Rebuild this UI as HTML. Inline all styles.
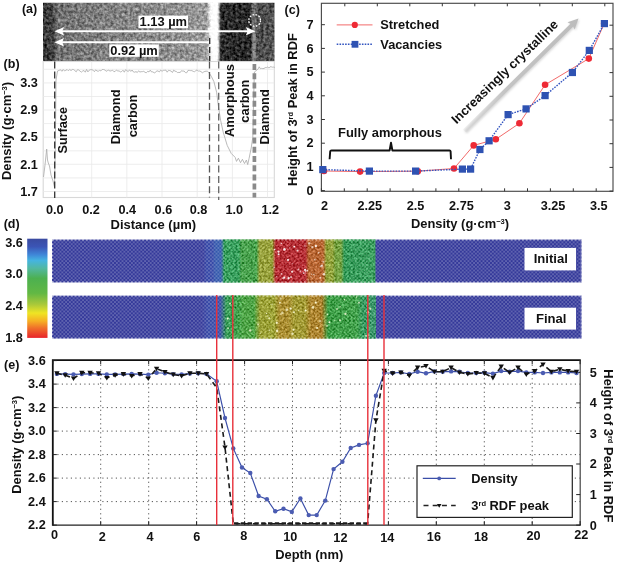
<!DOCTYPE html>
<html><head><meta charset="utf-8"><title>Figure</title>
<style>html,body{margin:0;padding:0;background:#fff}svg{display:block}</style></head>
<body>
<svg width="617" height="564" viewBox="0 0 617 564" font-family="'Liberation Sans', Arial, sans-serif" font-weight="bold">
<defs>
<filter id="noise" x="0" y="0" width="100%" height="100%" color-interpolation-filters="sRGB">
<feTurbulence type="fractalNoise" baseFrequency="0.32" numOctaves="3" seed="3" result="n"/>
<feColorMatrix in="n" type="matrix" values="0 0 0 0 0  0 0 0 0 0  0 0 0 0 0  1.7 0 0 0 -0.6"/>
<feGaussianBlur stdDeviation="0.45"/>
</filter>
<filter id="grain" x="0" y="0" width="100%" height="100%" color-interpolation-filters="sRGB">
<feTurbulence type="fractalNoise" baseFrequency="0.36" numOctaves="2" seed="3"/>
<feColorMatrix type="matrix" values="1 0 0 0 0  1 0 0 0 0  1 0 0 0 0  0 0 0 0 1"/>
<feComponentTransfer result="nz"><feFuncA type="linear" slope="0" intercept="1"/></feComponentTransfer>
<feComposite in="SourceGraphic" in2="nz" operator="arithmetic" k1="0" k2="1" k3="0.66" k4="-0.33"/>
</filter>
<filter id="noiseW" x="0" y="0" width="100%" height="100%" color-interpolation-filters="sRGB">
<feTurbulence type="fractalNoise" baseFrequency="0.3" numOctaves="3" seed="11" result="n"/>
<feColorMatrix in="n" type="matrix" values="0 0 0 0 1  0 0 0 0 1  0 0 0 0 1  0 1.7 0 0 -0.6"/>
<feGaussianBlur stdDeviation="0.45"/>
</filter>
<filter id="blur1" x="-20%" y="-20%" width="140%" height="140%"><feGaussianBlur stdDeviation="0.9"/></filter>
<filter id="blur2"><feGaussianBlur stdDeviation="2"/></filter>
<linearGradient id="ga" gradientUnits="userSpaceOnUse" x1="43" x2="274.5" y1="0" y2="0">
<stop offset="0" stop-color="#3a3a3a"/>
<stop offset="0.042" stop-color="#404040"/>
<stop offset="0.062" stop-color="#727272"/>
<stop offset="0.30" stop-color="#828282"/>
<stop offset="0.60" stop-color="#909090"/>
<stop offset="0.705" stop-color="#9a9a9a"/>
<stop offset="0.728" stop-color="#f4f4f4"/>
<stop offset="0.752" stop-color="#fbfbfb"/>
<stop offset="0.768" stop-color="#2c2c2c"/>
<stop offset="0.898" stop-color="#282828"/>
<stop offset="0.906" stop-color="#7a7a7a"/>
<stop offset="0.916" stop-color="#707070"/>
<stop offset="0.924" stop-color="#4e4e4e"/>
<stop offset="1" stop-color="#525252"/>
</linearGradient>
<linearGradient id="cbar" x1="0" x2="0" y1="0" y2="1">
<stop offset="0" stop-color="#3a4aa0"/>
<stop offset="0.08" stop-color="#3b55b5"/>
<stop offset="0.16" stop-color="#3f86d8"/>
<stop offset="0.22" stop-color="#45b4e0"/>
<stop offset="0.30" stop-color="#52b8a0"/>
<stop offset="0.40" stop-color="#4cb050"/>
<stop offset="0.55" stop-color="#62b844"/>
<stop offset="0.66" stop-color="#a8c83a"/>
<stop offset="0.75" stop-color="#efe524"/>
<stop offset="0.83" stop-color="#f6b024"/>
<stop offset="0.90" stop-color="#f0702a"/>
<stop offset="1" stop-color="#e8232a"/>
</linearGradient>
<linearGradient id="s1" gradientUnits="userSpaceOnUse" x1="52" x2="582" y1="0" y2="0">
<stop offset="0.0000" stop-color="#34399a"/>
<stop offset="0.2857" stop-color="#34399a"/>
<stop offset="0.2917" stop-color="#3547a6"/>
<stop offset="0.3026" stop-color="#3547a6"/>
<stop offset="0.3087" stop-color="#3358ac"/>
<stop offset="0.3191" stop-color="#3358ac"/>
<stop offset="0.3251" stop-color="#27964f"/>
<stop offset="0.3517" stop-color="#27964f"/>
<stop offset="0.3577" stop-color="#3b9a40"/>
<stop offset="0.3857" stop-color="#3b9a40"/>
<stop offset="0.3917" stop-color="#929c32"/>
<stop offset="0.4158" stop-color="#929c32"/>
<stop offset="0.4219" stop-color="#b0242b"/>
<stop offset="0.4781" stop-color="#b0242b"/>
<stop offset="0.4842" stop-color="#b45f2a"/>
<stop offset="0.5117" stop-color="#b45f2a"/>
<stop offset="0.5177" stop-color="#8c9e32"/>
<stop offset="0.5291" stop-color="#8c9e32"/>
<stop offset="0.5351" stop-color="#6c9c36"/>
<stop offset="0.5455" stop-color="#6c9c36"/>
<stop offset="0.5515" stop-color="#28944e"/>
<stop offset="0.6096" stop-color="#28944e"/>
<stop offset="0.6111" stop-color="#34399a"/>
<stop offset="0.9992" stop-color="#34399a"/>
</linearGradient>
<linearGradient id="s2" gradientUnits="userSpaceOnUse" x1="52" x2="582" y1="0" y2="0">
<stop offset="0.0000" stop-color="#34399a"/>
<stop offset="0.2830" stop-color="#34399a"/>
<stop offset="0.2943" stop-color="#3648a6"/>
<stop offset="0.3174" stop-color="#3648a6"/>
<stop offset="0.3287" stop-color="#28944a"/>
<stop offset="0.3340" stop-color="#28944a"/>
<stop offset="0.3453" stop-color="#319a40"/>
<stop offset="0.3491" stop-color="#319a40"/>
<stop offset="0.3604" stop-color="#409c38"/>
<stop offset="0.3811" stop-color="#409c38"/>
<stop offset="0.3925" stop-color="#969c2c"/>
<stop offset="0.4189" stop-color="#969c2c"/>
<stop offset="0.4302" stop-color="#a68828"/>
<stop offset="0.4453" stop-color="#a68828"/>
<stop offset="0.4566" stop-color="#9c942a"/>
<stop offset="0.4774" stop-color="#9c942a"/>
<stop offset="0.4887" stop-color="#a87e26"/>
<stop offset="0.5094" stop-color="#a87e26"/>
<stop offset="0.5208" stop-color="#32983c"/>
<stop offset="0.5755" stop-color="#32983c"/>
<stop offset="0.5868" stop-color="#289254"/>
<stop offset="0.5915" stop-color="#289254"/>
<stop offset="0.6028" stop-color="#288c5c"/>
<stop offset="0.6106" stop-color="#288c5c"/>
<stop offset="0.6121" stop-color="#34399a"/>
<stop offset="0.9992" stop-color="#34399a"/>
</linearGradient>
<pattern id="dots" x="52" y="239.5" width="3.76" height="3.76" patternUnits="userSpaceOnUse">
<circle cx="0.94" cy="0.94" r="0.64" fill="#fff"/><circle cx="2.82" cy="2.82" r="0.64" fill="#fff"/>
</pattern>
<pattern id="dots2" x="52" y="295.5" width="3.76" height="3.76" patternUnits="userSpaceOnUse">
<circle cx="0.94" cy="0.94" r="0.64" fill="#fff"/><circle cx="2.82" cy="2.82" r="0.64" fill="#fff"/>
</pattern>
<filter id="grain2" x="0" y="0" width="100%" height="100%" color-interpolation-filters="sRGB">
<feTurbulence type="fractalNoise" baseFrequency="0.45" numOctaves="2" seed="8"/>
<feColorMatrix type="matrix" values="1 0 0 0 0  1 0 0 0 0  1 0 0 0 0  0 0 0 0 1"/>
<feComponentTransfer result="nz"><feFuncA type="linear" slope="0" intercept="1"/></feComponentTransfer>
<feComposite in="SourceGraphic" in2="nz" operator="arithmetic" k1="0" k2="1" k3="0.6" k4="-0.3"/>
</filter>
<linearGradient id="dm" gradientUnits="userSpaceOnUse" x1="52" x2="582" y1="0" y2="0">
<stop offset="0" stop-color="#fff" stop-opacity="0.6"/>
<stop offset="0.30" stop-color="#fff" stop-opacity="0.6"/>
<stop offset="0.42" stop-color="#fff" stop-opacity="0.3"/>
<stop offset="0.52" stop-color="#fff" stop-opacity="0.3"/>
<stop offset="0.61" stop-color="#fff" stop-opacity="0.6"/>
<stop offset="1" stop-color="#fff" stop-opacity="0.6"/>
</linearGradient>
<mask id="m1"><rect x="52" y="239" width="530" height="100" fill="url(#dm)"/></mask>
<linearGradient id="garrow" gradientUnits="userSpaceOnUse" x1="464" y1="131" x2="580" y2="17">
<stop offset="0" stop-color="#cacaca" stop-opacity="0.2"/>
<stop offset="0.35" stop-color="#c2c2c2" stop-opacity="0.95"/>
<stop offset="1" stop-color="#bcbcbc" stop-opacity="1"/>
</linearGradient>
</defs>
<rect width="617" height="564" fill="#fff"/>
<clipPath id="ca"><rect x="43" y="2.7" width="231.5" height="58.599999999999994"/></clipPath>
<g clip-path="url(#ca)"><rect x="40" y="-0.2999999999999998" width="237.5" height="64.6" fill="url(#ga)" filter="url(#grain)"/></g>
<linearGradient id="wb" gradientUnits="userSpaceOnUse" x1="208" x2="220" y1="0" y2="0"><stop offset="0" stop-color="#fff" stop-opacity="0"/><stop offset="0.32" stop-color="#fff" stop-opacity="0.8"/><stop offset="0.7" stop-color="#fff" stop-opacity="0.85"/><stop offset="1" stop-color="#fff" stop-opacity="0"/></linearGradient>
<rect x="208" y="2.7" width="12" height="58.599999999999994" fill="url(#wb)"/>
<line x1="58.5" y1="31.3" x2="251.3" y2="31.3" stroke="#fff" stroke-width="2"/>
<path d="M54.5 31.3 l9.5 -4.3 l-1.8 4.3 l1.8 4.3z M255.3 31.3 l-9.5 -4.3 l1.8 4.3 l-1.8 4.3z" fill="#fff"/>
<line x1="58.5" y1="42.3" x2="214.6" y2="42.3" stroke="#fff" stroke-width="2"/>
<path d="M54.5 42.3 l9.5 -4.3 l-1.8 4.3 l1.8 4.3z M218.6 42.3 l-9.5 -4.3 l1.8 4.3 l-1.8 4.3z" fill="#fff"/>
<rect x="138.5" y="15.6" width="49.5" height="12.6" fill="#fff"/>
<text x="163.3" y="26.4" font-size="12.9" text-anchor="middle" fill="#111" >1.13 µm</text>
<rect x="109.3" y="44.4" width="49.5" height="12.4" fill="#fff"/>
<text x="134" y="55.3" font-size="12.9" text-anchor="middle" fill="#111" >0.92 µm</text>
<circle cx="254.7" cy="20.4" r="5.9" fill="none" stroke="#fff" stroke-width="1.3" stroke-dasharray="1.7 1.4"/>
<line x1="209.7" y1="38" x2="209.7" y2="61" stroke="#222" stroke-width="1.3" stroke-dasharray="6 3"/>
<line x1="254.5" y1="34" x2="254.5" y2="61" stroke="#999" stroke-width="2.6" stroke-dasharray="6 3" opacity="0.8"/>
<text x="29.6" y="12.7" font-size="12.5" text-anchor="middle" fill="#111" >(a)</text>
<rect x="43.2" y="61.5" width="231.10000000000002" height="136.0" fill="#fff" stroke="#d8d8d8" stroke-width="1.1"/>
<line x1="91.7" y1="61.5" x2="91.7" y2="197.5" stroke="#e9e9e9" stroke-width="0.8"/>
<line x1="126.8" y1="61.5" x2="126.8" y2="197.5" stroke="#e9e9e9" stroke-width="0.8"/>
<line x1="162.0" y1="61.5" x2="162.0" y2="197.5" stroke="#e9e9e9" stroke-width="0.8"/>
<line x1="197.2" y1="61.5" x2="197.2" y2="197.5" stroke="#e9e9e9" stroke-width="0.8"/>
<line x1="232.4" y1="61.5" x2="232.4" y2="197.5" stroke="#e9e9e9" stroke-width="0.8"/>
<line x1="267.5" y1="61.5" x2="267.5" y2="197.5" stroke="#e9e9e9" stroke-width="0.8"/>
<line x1="43.2" y1="69.3" x2="274.3" y2="69.3" stroke="#e9e9e9" stroke-width="0.8"/>
<line x1="43.2" y1="82.9" x2="274.3" y2="82.9" stroke="#e9e9e9" stroke-width="0.8"/>
<line x1="43.2" y1="96.5" x2="274.3" y2="96.5" stroke="#e9e9e9" stroke-width="0.8"/>
<line x1="43.2" y1="110.0" x2="274.3" y2="110.0" stroke="#e9e9e9" stroke-width="0.8"/>
<line x1="43.2" y1="123.6" x2="274.3" y2="123.6" stroke="#e9e9e9" stroke-width="0.8"/>
<line x1="43.2" y1="137.2" x2="274.3" y2="137.2" stroke="#e9e9e9" stroke-width="0.8"/>
<line x1="43.2" y1="150.8" x2="274.3" y2="150.8" stroke="#e9e9e9" stroke-width="0.8"/>
<line x1="43.2" y1="164.3" x2="274.3" y2="164.3" stroke="#e9e9e9" stroke-width="0.8"/>
<line x1="43.2" y1="177.9" x2="274.3" y2="177.9" stroke="#e9e9e9" stroke-width="0.8"/>
<line x1="43.2" y1="191.5" x2="274.3" y2="191.5" stroke="#e9e9e9" stroke-width="0.8"/>
<polyline fill="none" stroke="#adadad" stroke-width="0.85" points="43.5,177.0 45.0,165.0 46.7,149.0 47.5,160.0 48.3,163.0 49.5,166.0 51.0,175.0 53.0,181.0 54.5,187.0 55.3,150.0 56.0,80.0 57.5,71.0 59.3,70.3 60.6,69.8 61.9,71.3 63.2,69.5 64.5,70.9 65.8,70.4 67.1,69.5 68.4,70.8 69.7,69.4 71.0,70.6 72.3,69.5 73.6,69.6 74.9,70.6 76.2,71.8 77.5,69.7 78.8,70.0 80.1,71.2 81.4,72.1 82.7,71.0 84.0,70.5 85.3,72.2 86.6,69.4 87.9,71.9 89.2,70.2 90.5,69.7 91.8,69.7 93.1,70.2 94.4,71.7 95.7,69.8 97.0,71.0 98.3,71.2 99.6,70.4 100.9,70.9 102.2,69.5 103.5,69.5 104.8,69.9 106.1,71.3 107.4,70.6 108.7,70.2 110.0,71.1 111.3,70.7 112.6,70.2 113.9,71.7 115.2,71.4 116.5,70.0 117.8,71.0 119.1,70.9 120.4,71.9 121.7,71.5 123.0,70.2 124.3,72.2 125.6,69.7 126.9,70.6 128.2,71.6 129.5,69.8 130.8,71.4 132.1,70.0 133.4,71.9 134.7,72.2 136.0,71.6 137.3,72.5 138.6,70.8 139.9,72.0 141.2,71.7 142.5,71.6 143.8,71.3 145.1,72.4 146.4,72.7 147.7,71.3 149.0,71.9 150.3,70.1 151.6,72.0 152.9,71.8 154.2,72.9 155.5,72.4 156.8,70.8 158.1,71.1 159.4,71.9 160.7,70.0 162.0,71.3 163.3,70.4 164.6,70.3 165.9,70.1 167.2,72.2 168.5,70.3 169.8,70.6 171.1,71.1 172.4,72.5 173.7,70.1 175.0,71.2 176.3,71.5 177.6,72.6 178.9,72.4 180.2,72.5 181.5,70.7 182.8,71.1 184.1,71.0 185.4,72.6 186.7,72.8 188.0,70.4 189.3,70.4 190.6,70.6 191.9,70.6 193.2,71.4 194.5,71.7 195.8,70.7 197.1,69.9 198.4,71.2 199.7,71.0 201.0,71.6 202.3,72.8 203.6,72.0 204.9,71.4 206.2,71.2 207.5,71.3 208.6,72.3 211.3,76.3 213.9,81.6 216.6,92.2 218.7,108.2 220.6,120.2 223.2,132.1 227.2,145.4 231.2,153.4 235.2,157.4 236.5,161.4 238.4,158.2 240.5,162.7 242.4,159.3 244.5,163.5 246.4,160.0 247.7,164.6 249.0,158.7 251.2,148.0 252.8,137.4 253.6,100.0 254.4,72.0 257.8,69.3 258.5,68.3 259.2,66.8 260.4,68.7 261.6,68.4 262.8,68.6 264.0,68.5 265.2,67.6 266.4,67.6 267.6,66.9 268.8,68.1 270.0,66.8 271.2,66.8 272.4,67.2 273.6,67.1 274.8,67.4"/>
<line x1="54.7" y1="61.5" x2="54.7" y2="198.0" stroke="#333" stroke-width="1.3" stroke-dasharray="7 3"/>
<line x1="209.5" y1="61.5" x2="209.5" y2="197.5" stroke="#555" stroke-width="1.3" stroke-dasharray="7 3.4"/>
<line x1="218.7" y1="61.5" x2="218.7" y2="200.0" stroke="#666" stroke-width="1.3" stroke-dasharray="7 3.4"/>
<line x1="254.4" y1="64" x2="254.4" y2="197.5" stroke="#8a8a8a" stroke-width="3.7" stroke-dasharray="6 3.2"/>
<text x="37.9" y="86.69999999999999" font-size="12.7" text-anchor="end" fill="#111" >3.3</text>
<text x="37.9" y="113.97999999999999" font-size="12.7" text-anchor="end" fill="#111" >2.9</text>
<text x="37.9" y="141.25999999999996" font-size="12.7" text-anchor="end" fill="#111" >2.5</text>
<text x="37.9" y="168.54" font-size="12.7" text-anchor="end" fill="#111" >2.1</text>
<text x="37.9" y="195.81999999999996" font-size="12.7" text-anchor="end" fill="#111" >1.7</text>
<text x="54.8" y="213.5" font-size="12.7" text-anchor="middle" fill="#111" >0.0</text>
<text x="91.0" y="213.5" font-size="12.7" text-anchor="middle" fill="#111" >0.2</text>
<text x="127.2" y="213.5" font-size="12.7" text-anchor="middle" fill="#111" >0.4</text>
<text x="163.4" y="213.5" font-size="12.7" text-anchor="middle" fill="#111" >0.6</text>
<text x="198.5" y="213.5" font-size="12.7" text-anchor="middle" fill="#111" >0.8</text>
<text x="234.3" y="213.5" font-size="12.7" text-anchor="middle" fill="#111" >1.0</text>
<text x="270.2" y="213.5" font-size="12.7" text-anchor="middle" fill="#111" >1.2</text>
<text x="153.3" y="229.3" font-size="13" text-anchor="middle" fill="#111" >Distance (µm)</text>
<text transform="translate(11.4,131) rotate(-90)" font-size="12.9" text-anchor="middle" fill="#111">Density (g·cm<tspan baseline-shift="super" font-size="7.5">−3</tspan>)</text>
<text x="11.6" y="67.7" font-size="12.5" text-anchor="middle" fill="#111" >(b)</text>
<text transform="translate(67.1,130.3) rotate(-90)" font-size="12.7" text-anchor="middle" fill="#111">Surface</text>
<text transform="translate(120.2,116.9) rotate(-90)" font-size="12.8" text-anchor="middle" fill="#111">Diamond</text>
<text transform="translate(137,116) rotate(-90)" font-size="12.8" text-anchor="middle" fill="#111">carbon</text>
<text transform="translate(234.4,100.6) rotate(-90)" font-size="13" text-anchor="middle" fill="#111">Amorphous</text>
<text transform="translate(249.2,101.2) rotate(-90)" font-size="12.9" text-anchor="middle" fill="#111">carbon</text>
<text transform="translate(269.2,116.8) rotate(-90)" font-size="12.9" text-anchor="middle" fill="#111">Diamond</text>
<rect x="321.4" y="3.3" width="291.6" height="188.0" fill="#fff" stroke="#4a4a4a" stroke-width="1.15"/>
<line x1="321.4" y1="191.3" x2="321.4" y2="188.3" stroke="#333" stroke-width="1"/>
<line x1="344.3" y1="191.3" x2="344.3" y2="188.3" stroke="#333" stroke-width="1"/>
<line x1="367.2" y1="191.3" x2="367.2" y2="188.3" stroke="#333" stroke-width="1"/>
<line x1="390.1" y1="191.3" x2="390.1" y2="188.3" stroke="#333" stroke-width="1"/>
<line x1="413.0" y1="191.3" x2="413.0" y2="188.3" stroke="#333" stroke-width="1"/>
<line x1="435.9" y1="191.3" x2="435.9" y2="188.3" stroke="#333" stroke-width="1"/>
<line x1="458.8" y1="191.3" x2="458.8" y2="188.3" stroke="#333" stroke-width="1"/>
<line x1="481.7" y1="191.3" x2="481.7" y2="188.3" stroke="#333" stroke-width="1"/>
<line x1="504.6" y1="191.3" x2="504.6" y2="188.3" stroke="#333" stroke-width="1"/>
<line x1="527.5" y1="191.3" x2="527.5" y2="188.3" stroke="#333" stroke-width="1"/>
<line x1="550.4" y1="191.3" x2="550.4" y2="188.3" stroke="#333" stroke-width="1"/>
<line x1="573.3" y1="191.3" x2="573.3" y2="188.3" stroke="#333" stroke-width="1"/>
<line x1="596.2" y1="191.3" x2="596.2" y2="188.3" stroke="#333" stroke-width="1"/>
<line x1="344.8" y1="3.3" x2="344.8" y2="6.3" stroke="#333" stroke-width="1"/>
<line x1="377.3" y1="3.3" x2="377.3" y2="6.3" stroke="#333" stroke-width="1"/>
<line x1="409.8" y1="3.3" x2="409.8" y2="6.3" stroke="#333" stroke-width="1"/>
<line x1="442.3" y1="3.3" x2="442.3" y2="6.3" stroke="#333" stroke-width="1"/>
<line x1="474.8" y1="3.3" x2="474.8" y2="6.3" stroke="#333" stroke-width="1"/>
<line x1="507.3" y1="3.3" x2="507.3" y2="6.3" stroke="#333" stroke-width="1"/>
<line x1="539.8" y1="3.3" x2="539.8" y2="6.3" stroke="#333" stroke-width="1"/>
<line x1="572.3" y1="3.3" x2="572.3" y2="6.3" stroke="#333" stroke-width="1"/>
<line x1="604.8" y1="3.3" x2="604.8" y2="6.3" stroke="#333" stroke-width="1"/>
<line x1="321.4" y1="190.6" x2="324.9" y2="190.6" stroke="#333" stroke-width="1"/>
<line x1="613" y1="191.1" x2="609.5" y2="191.1" stroke="#333" stroke-width="1"/>
<text x="310" y="194.79999999999998" font-size="12.7" text-anchor="middle" fill="#111" >0</text>
<line x1="321.4" y1="166.9" x2="324.9" y2="166.9" stroke="#333" stroke-width="1"/>
<line x1="613" y1="167.4" x2="609.5" y2="167.4" stroke="#333" stroke-width="1"/>
<text x="310" y="171.1" font-size="12.7" text-anchor="middle" fill="#111" >1</text>
<line x1="321.4" y1="143.2" x2="324.9" y2="143.2" stroke="#333" stroke-width="1"/>
<line x1="613" y1="143.7" x2="609.5" y2="143.7" stroke="#333" stroke-width="1"/>
<text x="310" y="147.39999999999998" font-size="12.7" text-anchor="middle" fill="#111" >2</text>
<line x1="321.4" y1="119.5" x2="324.9" y2="119.5" stroke="#333" stroke-width="1"/>
<line x1="613" y1="120.0" x2="609.5" y2="120.0" stroke="#333" stroke-width="1"/>
<text x="310" y="123.7" font-size="12.7" text-anchor="middle" fill="#111" >3</text>
<line x1="321.4" y1="95.8" x2="324.9" y2="95.8" stroke="#333" stroke-width="1"/>
<line x1="613" y1="96.3" x2="609.5" y2="96.3" stroke="#333" stroke-width="1"/>
<text x="310" y="100.0" font-size="12.7" text-anchor="middle" fill="#111" >4</text>
<line x1="321.4" y1="72.1" x2="324.9" y2="72.1" stroke="#333" stroke-width="1"/>
<line x1="613" y1="72.6" x2="609.5" y2="72.6" stroke="#333" stroke-width="1"/>
<text x="310" y="76.3" font-size="12.7" text-anchor="middle" fill="#111" >5</text>
<line x1="321.4" y1="48.4" x2="324.9" y2="48.4" stroke="#333" stroke-width="1"/>
<line x1="613" y1="48.9" x2="609.5" y2="48.9" stroke="#333" stroke-width="1"/>
<text x="310" y="52.60000000000001" font-size="12.7" text-anchor="middle" fill="#111" >6</text>
<line x1="321.4" y1="24.7" x2="324.9" y2="24.7" stroke="#333" stroke-width="1"/>
<line x1="613" y1="25.2" x2="609.5" y2="25.2" stroke="#333" stroke-width="1"/>
<text x="310" y="28.899999999999988" font-size="12.7" text-anchor="middle" fill="#111" >7</text>
<text x="324.5" y="209.8" font-size="12.7" text-anchor="middle" fill="#111" >2</text>
<text x="369.8" y="209.8" font-size="12.7" text-anchor="middle" fill="#111" >2.25</text>
<text x="415.6" y="209.8" font-size="12.7" text-anchor="middle" fill="#111" >2.5</text>
<text x="461.4" y="209.8" font-size="12.7" text-anchor="middle" fill="#111" >2.75</text>
<text x="507.2" y="209.8" font-size="12.7" text-anchor="middle" fill="#111" >3</text>
<text x="553.0" y="209.8" font-size="12.7" text-anchor="middle" fill="#111" >3.25</text>
<text x="598.8" y="209.8" font-size="12.7" text-anchor="middle" fill="#111" >3.5</text>
<text x="460" y="227.5" font-size="12.9" text-anchor="middle" fill="#111" >Density (g·cm<tspan baseline-shift="super" font-size="7.5">−3</tspan>)</text>
<text transform="translate(297.3,109.6) rotate(-90)" font-size="12.9" text-anchor="middle" fill="#111">Height of 3<tspan baseline-shift="super" font-size="7.5">rd</tspan> Peak in RDF</text>
<text x="292.2" y="13.5" font-size="12.5" text-anchor="middle" fill="#111" >(c)</text>
<path d="M463.2 129.4 L570.4 23.7 L567.5 22.3 L578.5 18.5 L574.6 29.4 L573.2 26.6 L466.0 132.2Z" fill="#999" opacity="0.4" transform="translate(0.9,1.2)" filter="url(#blur1)"/>
<path d="M463.2 129.4 L570.4 23.7 L567.5 22.3 L578.5 18.5 L574.6 29.4 L573.2 26.6 L466.0 132.2Z" fill="url(#garrow)"/>
<text transform="translate(456.4,124.4) rotate(-44)" font-size="12.9" fill="#111">Increasingly crystalline</text>
<path d="M329.6 159.3 L330.2 151.4 Q330.3 150.5 331.5 150.5 L389.6 150.5 L391 142.6 L392.4 150.5 L449.5 150.5 Q450.5 150.5 450.6 151.4 L451 159.3" fill="none" stroke="#111" stroke-width="1.9" stroke-linejoin="round"/>
<text x="390" y="137" font-size="12.9" text-anchor="middle" fill="#111" >Fully amorphous</text>
<polyline fill="none" stroke="#f26a6a" stroke-width="1" points="324,171 360.1,171.6 417.8,171.2 454,168.5 473.7,145.4 495.8,139.3 519.4,123.3 545.1,84.8 588.8,58.6 604.2,23.6"/>
<circle cx="324" cy="171" r="3.3" fill="#ee2a35"/>
<circle cx="360.1" cy="171.6" r="3.3" fill="#ee2a35"/>
<circle cx="417.8" cy="171.2" r="3.3" fill="#ee2a35"/>
<circle cx="454" cy="168.5" r="3.3" fill="#ee2a35"/>
<circle cx="473.7" cy="145.4" r="3.3" fill="#ee2a35"/>
<circle cx="495.8" cy="139.3" r="3.3" fill="#ee2a35"/>
<circle cx="519.4" cy="123.3" r="3.3" fill="#ee2a35"/>
<circle cx="545.1" cy="84.8" r="3.3" fill="#ee2a35"/>
<circle cx="588.8" cy="58.6" r="3.3" fill="#ee2a35"/>
<circle cx="604.2" cy="23.6" r="3.3" fill="#ee2a35"/>
<polyline fill="none" stroke="#3355c0" stroke-width="1.4" stroke-dasharray="1.6 1.2" points="322.8,169.6 369.4,171.1 415.6,171.1 462.4,169.1 470.6,169.1 479.9,149.5 489.1,140.8 508.1,114.6 526.1,108.9 545.1,95.6 572.4,72.5 589.3,50.4 604.4,23.6"/>
<rect x="319.2" y="166.0" width="7.2" height="7.2" fill="#2e52b2"/>
<rect x="365.8" y="167.5" width="7.2" height="7.2" fill="#2e52b2"/>
<rect x="412.0" y="167.5" width="7.2" height="7.2" fill="#2e52b2"/>
<rect x="458.8" y="165.5" width="7.2" height="7.2" fill="#2e52b2"/>
<rect x="467.0" y="165.5" width="7.2" height="7.2" fill="#2e52b2"/>
<rect x="476.3" y="145.9" width="7.2" height="7.2" fill="#2e52b2"/>
<rect x="485.5" y="137.2" width="7.2" height="7.2" fill="#2e52b2"/>
<rect x="504.5" y="111.0" width="7.2" height="7.2" fill="#2e52b2"/>
<rect x="522.5" y="105.3" width="7.2" height="7.2" fill="#2e52b2"/>
<rect x="541.5" y="92.0" width="7.2" height="7.2" fill="#2e52b2"/>
<rect x="568.8" y="68.9" width="7.2" height="7.2" fill="#2e52b2"/>
<rect x="585.7" y="46.8" width="7.2" height="7.2" fill="#2e52b2"/>
<rect x="600.8" y="20.0" width="7.2" height="7.2" fill="#2e52b2"/>
<line x1="336.7" y1="24.9" x2="372.5" y2="24.9" stroke="#f26a6a" stroke-width="1"/><circle cx="354.8" cy="24.9" r="3.1" fill="#ee2a35"/>
<line x1="336.7" y1="44.3" x2="372.5" y2="44.3" stroke="#3355c0" stroke-width="1.4" stroke-dasharray="1.6 1.2"/><rect x="351.6" y="40.9" width="6.8" height="6.8" fill="#2e52b2"/>
<text x="380.3" y="29.3" font-size="12.8" text-anchor="start" fill="#111" >Stretched</text>
<text x="380.3" y="48.8" font-size="12.8" text-anchor="start" fill="#111" >Vacancies</text>
<text x="11.7" y="228.3" font-size="12.5" text-anchor="middle" fill="#111" >(d)</text>
<rect x="27.2" y="238.7" width="20.3" height="99.2" fill="url(#cbar)"/>
<text x="14" y="246.6" font-size="12.7" text-anchor="middle" fill="#111" >3.6</text>
<text x="14" y="277.8" font-size="12.7" text-anchor="middle" fill="#111" >3.0</text>
<text x="14" y="309.8" font-size="12.7" text-anchor="middle" fill="#111" >2.4</text>
<text x="14" y="341.8" font-size="12.7" text-anchor="middle" fill="#111" >1.8</text>
<rect x="52" y="239.5" width="529.6" height="43" fill="url(#s1)"/>
<rect x="52" y="295.6" width="529.6" height="43" fill="url(#s2)"/>
<clipPath id="c1"><rect x="222.7" y="239.5" width="152.8" height="43"/></clipPath><clipPath id="c2"><rect x="223.2" y="295.6" width="152.8" height="43"/></clipPath>
<g clip-path="url(#c1)"><rect x="220" y="237" width="158" height="47" fill="url(#s1)" filter="url(#grain2)"/></g>
<g clip-path="url(#c2)"><rect x="220" y="293" width="158" height="48" fill="url(#s2)" filter="url(#grain2)"/></g>
<g mask="url(#m1)"><rect x="52" y="239.5" width="529.6" height="43" fill="url(#dots)"/>
<rect x="52" y="295.6" width="529.6" height="43" fill="url(#dots2)"/></g>
<circle cx="305.1" cy="269.9" r="1.16" fill="#fff" opacity="0.92"/>
<circle cx="311.0" cy="277.0" r="0.62" fill="#fff" opacity="0.71"/>
<circle cx="321.2" cy="266.3" r="1.23" fill="#fff" opacity="0.55"/>
<circle cx="297.5" cy="250.6" r="0.98" fill="#fff" opacity="0.76"/>
<circle cx="274.7" cy="249.5" r="0.80" fill="#fff" opacity="0.91"/>
<circle cx="312.3" cy="247.2" r="1.16" fill="#fff" opacity="0.56"/>
<circle cx="304.9" cy="245.9" r="0.60" fill="#fff" opacity="0.89"/>
<circle cx="284.5" cy="249.4" r="1.29" fill="#fff" opacity="0.89"/>
<circle cx="288.5" cy="278.5" r="0.98" fill="#fff" opacity="0.81"/>
<circle cx="284.2" cy="277.7" r="1.08" fill="#fff" opacity="0.93"/>
<circle cx="318.7" cy="252.7" r="0.85" fill="#fff" opacity="0.57"/>
<circle cx="281.3" cy="243.5" r="0.81" fill="#fff" opacity="0.77"/>
<circle cx="274.2" cy="267.4" r="0.84" fill="#fff" opacity="0.64"/>
<circle cx="314.9" cy="259.7" r="0.82" fill="#fff" opacity="0.72"/>
<circle cx="309.2" cy="243.2" r="1.28" fill="#fff" opacity="0.51"/>
<circle cx="311.5" cy="274.0" r="0.61" fill="#fff" opacity="0.85"/>
<circle cx="292.3" cy="263.6" r="0.61" fill="#fff" opacity="0.52"/>
<circle cx="283.0" cy="278.3" r="0.74" fill="#fff" opacity="0.84"/>
<circle cx="320.5" cy="277.7" r="0.84" fill="#fff" opacity="0.66"/>
<circle cx="300.2" cy="271.2" r="0.68" fill="#fff" opacity="0.84"/>
<circle cx="313.9" cy="274.5" r="0.63" fill="#fff" opacity="0.93"/>
<circle cx="278.6" cy="254.3" r="1.03" fill="#fff" opacity="0.91"/>
<circle cx="291.0" cy="277.0" r="0.98" fill="#fff" opacity="0.64"/>
<circle cx="289.8" cy="247.9" r="0.65" fill="#fff" opacity="0.57"/>
<circle cx="308.5" cy="279.9" r="0.71" fill="#fff" opacity="0.52"/>
<circle cx="323.3" cy="261.8" r="0.88" fill="#fff" opacity="0.61"/>
<circle cx="303.7" cy="273.2" r="0.92" fill="#fff" opacity="0.69"/>
<circle cx="276.8" cy="276.7" r="0.62" fill="#fff" opacity="0.72"/>
<circle cx="315.9" cy="246.1" r="1.11" fill="#fff" opacity="0.93"/>
<circle cx="305.5" cy="271.7" r="0.67" fill="#fff" opacity="0.70"/>
<circle cx="281.5" cy="273.9" r="0.81" fill="#fff" opacity="0.70"/>
<circle cx="324.0" cy="274.2" r="1.28" fill="#fff" opacity="0.70"/>
<circle cx="298.4" cy="269.5" r="0.94" fill="#fff" opacity="0.63"/>
<circle cx="294.2" cy="246.7" r="0.86" fill="#fff" opacity="0.94"/>
<circle cx="322.0" cy="265.5" r="0.95" fill="#fff" opacity="0.65"/>
<circle cx="278.5" cy="251.6" r="1.15" fill="#fff" opacity="0.89"/>
<circle cx="292.1" cy="271.7" r="1.14" fill="#fff" opacity="0.81"/>
<circle cx="307.2" cy="270.6" r="0.85" fill="#fff" opacity="0.82"/>
<circle cx="288.0" cy="259.9" r="1.14" fill="#fff" opacity="0.81"/>
<circle cx="288.7" cy="277.9" r="1.05" fill="#fff" opacity="0.76"/>
<circle cx="227.7" cy="318.9" r="0.78" fill="#ffffe0" opacity="0.80"/>
<circle cx="293.6" cy="329.7" r="1.05" fill="#ffffe0" opacity="0.86"/>
<circle cx="276.8" cy="322.8" r="1.12" fill="#ffffe0" opacity="0.87"/>
<circle cx="277.1" cy="330.7" r="1.21" fill="#ffffe0" opacity="0.81"/>
<circle cx="368.5" cy="335.3" r="0.96" fill="#ffffe0" opacity="0.74"/>
<circle cx="250.3" cy="330.5" r="1.26" fill="#ffffe0" opacity="0.71"/>
<circle cx="326.9" cy="325.8" r="1.11" fill="#ffffe0" opacity="0.58"/>
<circle cx="339.9" cy="320.2" r="1.07" fill="#ffffe0" opacity="0.69"/>
<circle cx="317.1" cy="328.0" r="1.05" fill="#ffffe0" opacity="0.82"/>
<circle cx="230.0" cy="303.4" r="0.91" fill="#ffffe0" opacity="0.79"/>
<circle cx="258.0" cy="324.4" r="1.04" fill="#ffffe0" opacity="0.52"/>
<circle cx="294.9" cy="306.0" r="0.64" fill="#ffffe0" opacity="0.56"/>
<circle cx="272.3" cy="304.3" r="0.74" fill="#ffffe0" opacity="0.52"/>
<circle cx="293.9" cy="312.2" r="1.03" fill="#ffffe0" opacity="0.77"/>
<circle cx="260.7" cy="333.1" r="0.60" fill="#ffffe0" opacity="0.68"/>
<circle cx="266.7" cy="313.4" r="0.68" fill="#ffffe0" opacity="0.87"/>
<circle cx="280.6" cy="298.4" r="1.03" fill="#ffffe0" opacity="0.54"/>
<circle cx="305.6" cy="310.6" r="1.01" fill="#ffffe0" opacity="0.93"/>
<circle cx="345.5" cy="313.8" r="1.17" fill="#ffffe0" opacity="0.79"/>
<circle cx="279.9" cy="302.7" r="1.02" fill="#ffffe0" opacity="0.75"/>
<circle cx="365.8" cy="335.7" r="1.03" fill="#ffffe0" opacity="0.66"/>
<circle cx="356.4" cy="297.0" r="0.68" fill="#ffffe0" opacity="0.75"/>
<circle cx="315.8" cy="302.6" r="1.04" fill="#ffffe0" opacity="0.90"/>
<circle cx="280.9" cy="314.3" r="0.76" fill="#ffffe0" opacity="0.63"/>
<circle cx="368.0" cy="312.2" r="1.27" fill="#ffffe0" opacity="0.91"/>
<circle cx="313.0" cy="307.4" r="1.29" fill="#ffffe0" opacity="0.72"/>
<circle cx="286.7" cy="309.8" r="1.29" fill="#ffffe0" opacity="0.72"/>
<circle cx="267.8" cy="316.1" r="0.69" fill="#ffffe0" opacity="0.78"/>
<circle cx="290.7" cy="308.7" r="1.15" fill="#ffffe0" opacity="0.87"/>
<circle cx="227.9" cy="318.3" r="0.79" fill="#ffffe0" opacity="0.92"/>
<circle cx="340.2" cy="306.8" r="0.79" fill="#ffffe0" opacity="0.57"/>
<circle cx="370.4" cy="308.7" r="1.03" fill="#ffffe0" opacity="0.71"/>
<circle cx="320.2" cy="321.2" r="1.12" fill="#ffffe0" opacity="0.55"/>
<circle cx="337.0" cy="309.0" r="0.97" fill="#ffffe0" opacity="0.65"/>
<circle cx="269.3" cy="318.2" r="0.93" fill="#ffffe0" opacity="0.66"/>
<circle cx="334.8" cy="320.6" r="0.63" fill="#ffffe0" opacity="0.61"/>
<circle cx="292.5" cy="333.7" r="1.22" fill="#ffffe0" opacity="0.75"/>
<circle cx="228.1" cy="328.1" r="0.90" fill="#ffffe0" opacity="0.76"/>
<circle cx="329.4" cy="322.3" r="0.94" fill="#ffffe0" opacity="0.91"/>
<circle cx="282.3" cy="312.7" r="1.20" fill="#ffffe0" opacity="0.59"/>
<circle cx="269.3" cy="330.2" r="0.65" fill="#ffffe0" opacity="0.88"/>
<circle cx="327.4" cy="314.3" r="0.80" fill="#ffffe0" opacity="0.85"/>
<circle cx="359.0" cy="302.7" r="0.93" fill="#ffffe0" opacity="0.75"/>
<circle cx="298.7" cy="310.2" r="0.71" fill="#ffffe0" opacity="0.76"/>
<circle cx="344.5" cy="299.7" r="0.76" fill="#ffffe0" opacity="0.87"/>
<pattern id="edgeh" x="52" y="0" width="3.76" height="2" patternUnits="userSpaceOnUse"><circle cx="0.94" cy="1" r="0.8" fill="#fff"/></pattern>
<pattern id="edgev" x="0" y="239.5" width="2" height="3.76" patternUnits="userSpaceOnUse"><circle cx="1" cy="0.94" r="0.8" fill="#fff"/></pattern>
<rect x="52" y="238.5" width="529.6" height="2" fill="url(#edgeh)" opacity="0.9"/>
<rect x="52" y="281.5" width="529.6" height="2" fill="url(#edgeh)" opacity="0.9"/>
<rect x="51" y="239.5" width="2" height="43.0" fill="url(#edgev)" opacity="0.9"/>
<rect x="580.6" y="239.5" width="2" height="43.0" fill="url(#edgev)" opacity="0.9"/>
<rect x="52" y="294.6" width="529.6" height="2" fill="url(#edgeh)" opacity="0.9"/>
<rect x="52" y="337.6" width="529.6" height="2" fill="url(#edgeh)" opacity="0.9"/>
<rect x="51" y="295.6" width="2" height="43.0" fill="url(#edgev)" opacity="0.9"/>
<rect x="580.6" y="295.6" width="2" height="43.0" fill="url(#edgev)" opacity="0.9"/>
<rect x="524.5" y="247.9" width="51.5" height="22.5" fill="#fff"/>
<text x="550.8" y="263.3" font-size="13.1" text-anchor="middle" fill="#111" >Initial</text>
<rect x="524.5" y="307.7" width="51.5" height="21.9" fill="#fff"/>
<text x="551.2" y="322.8" font-size="13.1" text-anchor="middle" fill="#111" >Final</text>
<rect x="52.8" y="360.2" width="527.4000000000001" height="164.90000000000003" fill="#fff"/>
<path d="M52.8 525.8000000000001 V360.2 H580.8000000000001" fill="none" stroke="#111" stroke-width="1.8"/><path d="M580.2 360.2 V525.1 " fill="none" stroke="#444" stroke-width="1.2"/><path d="M52.8 525.1 H580.8000000000001" fill="none" stroke="#222" stroke-width="1.4"/>
<line x1="100.7" y1="360.2" x2="100.7" y2="525.1" stroke="#555" stroke-width="1" stroke-dasharray="1.2 3.3"/>
<line x1="148.7" y1="360.2" x2="148.7" y2="525.1" stroke="#555" stroke-width="1" stroke-dasharray="1.2 3.3"/>
<line x1="196.6" y1="360.2" x2="196.6" y2="525.1" stroke="#555" stroke-width="1" stroke-dasharray="1.2 3.3"/>
<line x1="244.6" y1="360.2" x2="244.6" y2="525.1" stroke="#555" stroke-width="1" stroke-dasharray="1.2 3.3"/>
<line x1="292.5" y1="360.2" x2="292.5" y2="525.1" stroke="#555" stroke-width="1" stroke-dasharray="1.2 3.3"/>
<line x1="340.4" y1="360.2" x2="340.4" y2="525.1" stroke="#555" stroke-width="1" stroke-dasharray="1.2 3.3"/>
<line x1="388.4" y1="360.2" x2="388.4" y2="525.1" stroke="#555" stroke-width="1" stroke-dasharray="1.2 3.3"/>
<line x1="436.3" y1="360.2" x2="436.3" y2="525.1" stroke="#555" stroke-width="1" stroke-dasharray="1.2 3.3"/>
<line x1="484.3" y1="360.2" x2="484.3" y2="525.1" stroke="#555" stroke-width="1" stroke-dasharray="1.2 3.3"/>
<line x1="532.2" y1="360.2" x2="532.2" y2="525.1" stroke="#555" stroke-width="1" stroke-dasharray="1.2 3.3"/>
<line x1="52.8" y1="384.1" x2="580.2" y2="384.1" stroke="#555" stroke-width="1" stroke-dasharray="1.2 3.3"/>
<line x1="52.8" y1="407.6" x2="580.2" y2="407.6" stroke="#555" stroke-width="1" stroke-dasharray="1.2 3.3"/>
<line x1="52.8" y1="431.1" x2="580.2" y2="431.1" stroke="#555" stroke-width="1" stroke-dasharray="1.2 3.3"/>
<line x1="52.8" y1="454.6" x2="580.2" y2="454.6" stroke="#555" stroke-width="1" stroke-dasharray="1.2 3.3"/>
<line x1="52.8" y1="478.1" x2="580.2" y2="478.1" stroke="#555" stroke-width="1" stroke-dasharray="1.2 3.3"/>
<line x1="52.8" y1="501.6" x2="580.2" y2="501.6" stroke="#555" stroke-width="1" stroke-dasharray="1.2 3.3"/>
<line x1="52.8" y1="525.1" x2="52.8" y2="521.1" stroke="#222" stroke-width="1"/>
<line x1="52.8" y1="360.2" x2="52.8" y2="364.2" stroke="#222" stroke-width="1"/>
<text x="54.5" y="539" font-size="12.7" text-anchor="middle" fill="#111" >0</text>
<line x1="100.7" y1="525.1" x2="100.7" y2="521.1" stroke="#222" stroke-width="1"/>
<line x1="100.7" y1="360.2" x2="100.7" y2="364.2" stroke="#222" stroke-width="1"/>
<text x="102.2" y="541" font-size="12.7" text-anchor="middle" fill="#111" >2</text>
<line x1="148.7" y1="525.1" x2="148.7" y2="521.1" stroke="#222" stroke-width="1"/>
<line x1="148.7" y1="360.2" x2="148.7" y2="364.2" stroke="#222" stroke-width="1"/>
<text x="150" y="541" font-size="12.7" text-anchor="middle" fill="#111" >4</text>
<line x1="196.6" y1="525.1" x2="196.6" y2="521.1" stroke="#222" stroke-width="1"/>
<line x1="196.6" y1="360.2" x2="196.6" y2="364.2" stroke="#222" stroke-width="1"/>
<text x="196.8" y="541" font-size="12.7" text-anchor="middle" fill="#111" >6</text>
<line x1="244.6" y1="525.1" x2="244.6" y2="521.1" stroke="#222" stroke-width="1"/>
<line x1="244.6" y1="360.2" x2="244.6" y2="364.2" stroke="#222" stroke-width="1"/>
<text x="243.8" y="540.3" font-size="12.7" text-anchor="middle" fill="#111" >8</text>
<line x1="292.5" y1="525.1" x2="292.5" y2="521.1" stroke="#222" stroke-width="1"/>
<line x1="292.5" y1="360.2" x2="292.5" y2="364.2" stroke="#222" stroke-width="1"/>
<text x="290.2" y="540.8" font-size="12.7" text-anchor="middle" fill="#111" >10</text>
<line x1="340.4" y1="525.1" x2="340.4" y2="521.1" stroke="#222" stroke-width="1"/>
<line x1="340.4" y1="360.2" x2="340.4" y2="364.2" stroke="#222" stroke-width="1"/>
<text x="340.4" y="542.3" font-size="12.7" text-anchor="middle" fill="#111" >12</text>
<line x1="388.4" y1="525.1" x2="388.4" y2="521.1" stroke="#222" stroke-width="1"/>
<line x1="388.4" y1="360.2" x2="388.4" y2="364.2" stroke="#222" stroke-width="1"/>
<text x="387.2" y="541.5" font-size="12.7" text-anchor="middle" fill="#111" >14</text>
<line x1="436.3" y1="525.1" x2="436.3" y2="521.1" stroke="#222" stroke-width="1"/>
<line x1="436.3" y1="360.2" x2="436.3" y2="364.2" stroke="#222" stroke-width="1"/>
<text x="433.9" y="541" font-size="12.7" text-anchor="middle" fill="#111" >16</text>
<line x1="484.3" y1="525.1" x2="484.3" y2="521.1" stroke="#222" stroke-width="1"/>
<line x1="484.3" y1="360.2" x2="484.3" y2="364.2" stroke="#222" stroke-width="1"/>
<text x="481.1" y="541" font-size="12.7" text-anchor="middle" fill="#111" >18</text>
<line x1="532.2" y1="525.1" x2="532.2" y2="521.1" stroke="#222" stroke-width="1"/>
<line x1="532.2" y1="360.2" x2="532.2" y2="364.2" stroke="#222" stroke-width="1"/>
<text x="533.5" y="539.6" font-size="12.7" text-anchor="middle" fill="#111" >20</text>
<line x1="580.1" y1="525.1" x2="580.1" y2="521.1" stroke="#222" stroke-width="1"/>
<line x1="580.1" y1="360.2" x2="580.1" y2="364.2" stroke="#222" stroke-width="1"/>
<text x="581.2" y="538.6" font-size="12.7" text-anchor="middle" fill="#111" >22</text>
<text x="45.7" y="364.90000000000003" font-size="12.7" text-anchor="end" fill="#111" >3.6</text>
<line x1="52.8" y1="360.6" x2="56.8" y2="360.6" stroke="#222" stroke-width="1"/>
<text x="45.7" y="388.40000000000003" font-size="12.7" text-anchor="end" fill="#111" >3.4</text>
<line x1="52.8" y1="384.1" x2="56.8" y2="384.1" stroke="#222" stroke-width="1"/>
<text x="45.7" y="411.90000000000003" font-size="12.7" text-anchor="end" fill="#111" >3.2</text>
<line x1="52.8" y1="407.6" x2="56.8" y2="407.6" stroke="#222" stroke-width="1"/>
<text x="45.7" y="435.40000000000003" font-size="12.7" text-anchor="end" fill="#111" >3.0</text>
<line x1="52.8" y1="431.1" x2="56.8" y2="431.1" stroke="#222" stroke-width="1"/>
<text x="45.7" y="458.90000000000003" font-size="12.7" text-anchor="end" fill="#111" >2.8</text>
<line x1="52.8" y1="454.6" x2="56.8" y2="454.6" stroke="#222" stroke-width="1"/>
<text x="45.7" y="482.40000000000003" font-size="12.7" text-anchor="end" fill="#111" >2.6</text>
<line x1="52.8" y1="478.1" x2="56.8" y2="478.1" stroke="#222" stroke-width="1"/>
<text x="45.7" y="505.90000000000003" font-size="12.7" text-anchor="end" fill="#111" >2.4</text>
<line x1="52.8" y1="501.6" x2="56.8" y2="501.6" stroke="#222" stroke-width="1"/>
<text x="45.7" y="529.4" font-size="12.7" text-anchor="end" fill="#111" >2.2</text>
<line x1="52.8" y1="525.1" x2="56.8" y2="525.1" stroke="#222" stroke-width="1"/>
<text x="593.3" y="529.5" font-size="12.7" text-anchor="middle" fill="#111" >0</text>
<line x1="580.2" y1="525.1" x2="576.2" y2="525.1" stroke="#222" stroke-width="1"/>
<text x="593.3" y="498.96" font-size="12.7" text-anchor="middle" fill="#111" >1</text>
<line x1="580.2" y1="494.6" x2="576.2" y2="494.6" stroke="#222" stroke-width="1"/>
<text x="593.3" y="468.42" font-size="12.7" text-anchor="middle" fill="#111" >2</text>
<line x1="580.2" y1="464.0" x2="576.2" y2="464.0" stroke="#222" stroke-width="1"/>
<text x="593.3" y="437.88" font-size="12.7" text-anchor="middle" fill="#111" >3</text>
<line x1="580.2" y1="433.5" x2="576.2" y2="433.5" stroke="#222" stroke-width="1"/>
<text x="593.3" y="407.34000000000003" font-size="12.7" text-anchor="middle" fill="#111" >4</text>
<line x1="580.2" y1="402.9" x2="576.2" y2="402.9" stroke="#222" stroke-width="1"/>
<text x="593.3" y="376.8" font-size="12.7" text-anchor="middle" fill="#111" >5</text>
<line x1="580.2" y1="372.4" x2="576.2" y2="372.4" stroke="#222" stroke-width="1"/>
<text x="309.2" y="559" font-size="12.9" text-anchor="middle" fill="#111" >Depth (nm)</text>
<text transform="translate(20.6,444.8) rotate(-90)" font-size="12.9" text-anchor="middle" fill="#111">Density (g·cm<tspan baseline-shift="super" font-size="7.5">−3</tspan>)</text>
<text transform="translate(604.3,445.8) rotate(90)" font-size="12.9" text-anchor="middle" fill="#111">Height of 3<tspan baseline-shift="super" font-size="7.5">rd</tspan> Peak in RDF</text>
<text x="11.7" y="368.8" font-size="12.5" text-anchor="middle" fill="#111" >(e)</text>
<polyline fill="none" stroke="#3a4ea8" stroke-width="1.15" points="56.9,373.9 65.2,374.1 73.5,374.4 81.8,374.1 90.1,373.9 98.5,373.9 106.8,374.4 115.1,374.4 123.4,374.1 131.7,373.9 140.0,374.1 148.3,374.6 156.6,372.8 164.9,373.3 173.2,374.1 181.6,374.4 189.9,373.6 198.2,373.3 206.5,373.9 216.7,381.3 225.0,418.0 233.3,448.4 242.0,467.5 250.3,473.0 258.6,496.0 266.9,499.2 275.2,511.3 283.5,508.7 291.8,511.9 300.4,498.5 308.7,515.1 316.7,515.1 325.3,500.6 333.6,469.1 342.4,461.8 350.7,448.0 359.0,444.9 367.6,443.3 375.9,395.7 384.2,373.0 392.6,373.0 400.9,372.4 409.3,374.0 417.6,371.7 426.0,373.3 434.4,371.4 442.7,371.7 451.1,371.4 459.4,371.7 467.8,373.0 476.2,373.0 484.5,372.7 492.9,373.6 501.2,371.1 509.6,371.7 518.0,371.1 526.3,372.4 534.7,372.4 543.0,373.0 551.4,372.4 559.8,372.4 568.1,372.4 576.5,373.0"/>
<circle cx="56.9" cy="373.9" r="2.2" fill="#4b5cb2"/>
<circle cx="65.2" cy="374.1" r="2.2" fill="#4b5cb2"/>
<circle cx="73.5" cy="374.4" r="2.2" fill="#4b5cb2"/>
<circle cx="81.8" cy="374.1" r="2.2" fill="#4b5cb2"/>
<circle cx="90.1" cy="373.9" r="2.2" fill="#4b5cb2"/>
<circle cx="98.5" cy="373.9" r="2.2" fill="#4b5cb2"/>
<circle cx="106.8" cy="374.4" r="2.2" fill="#4b5cb2"/>
<circle cx="115.1" cy="374.4" r="2.2" fill="#4b5cb2"/>
<circle cx="123.4" cy="374.1" r="2.2" fill="#4b5cb2"/>
<circle cx="131.7" cy="373.9" r="2.2" fill="#4b5cb2"/>
<circle cx="140.0" cy="374.1" r="2.2" fill="#4b5cb2"/>
<circle cx="148.3" cy="374.6" r="2.2" fill="#4b5cb2"/>
<circle cx="156.6" cy="372.8" r="2.2" fill="#4b5cb2"/>
<circle cx="164.9" cy="373.3" r="2.2" fill="#4b5cb2"/>
<circle cx="173.2" cy="374.1" r="2.2" fill="#4b5cb2"/>
<circle cx="181.6" cy="374.4" r="2.2" fill="#4b5cb2"/>
<circle cx="189.9" cy="373.6" r="2.2" fill="#4b5cb2"/>
<circle cx="198.2" cy="373.3" r="2.2" fill="#4b5cb2"/>
<circle cx="206.5" cy="373.9" r="2.2" fill="#4b5cb2"/>
<circle cx="216.7" cy="381.3" r="2.2" fill="#4b5cb2"/>
<circle cx="225.0" cy="418.0" r="2.2" fill="#4b5cb2"/>
<circle cx="233.3" cy="448.4" r="2.2" fill="#4b5cb2"/>
<circle cx="242.0" cy="467.5" r="2.2" fill="#4b5cb2"/>
<circle cx="250.3" cy="473.0" r="2.2" fill="#4b5cb2"/>
<circle cx="258.6" cy="496.0" r="2.2" fill="#4b5cb2"/>
<circle cx="266.9" cy="499.2" r="2.2" fill="#4b5cb2"/>
<circle cx="275.2" cy="511.3" r="2.2" fill="#4b5cb2"/>
<circle cx="283.5" cy="508.7" r="2.2" fill="#4b5cb2"/>
<circle cx="291.8" cy="511.9" r="2.2" fill="#4b5cb2"/>
<circle cx="300.4" cy="498.5" r="2.2" fill="#4b5cb2"/>
<circle cx="308.7" cy="515.1" r="2.2" fill="#4b5cb2"/>
<circle cx="316.7" cy="515.1" r="2.2" fill="#4b5cb2"/>
<circle cx="325.3" cy="500.6" r="2.2" fill="#4b5cb2"/>
<circle cx="333.6" cy="469.1" r="2.2" fill="#4b5cb2"/>
<circle cx="342.4" cy="461.8" r="2.2" fill="#4b5cb2"/>
<circle cx="350.7" cy="448.0" r="2.2" fill="#4b5cb2"/>
<circle cx="359.0" cy="444.9" r="2.2" fill="#4b5cb2"/>
<circle cx="367.6" cy="443.3" r="2.2" fill="#4b5cb2"/>
<circle cx="375.9" cy="395.7" r="2.2" fill="#4b5cb2"/>
<circle cx="384.2" cy="373.0" r="2.2" fill="#4b5cb2"/>
<circle cx="392.6" cy="373.0" r="2.2" fill="#4b5cb2"/>
<circle cx="400.9" cy="372.4" r="2.2" fill="#4b5cb2"/>
<circle cx="409.3" cy="374.0" r="2.2" fill="#4b5cb2"/>
<circle cx="417.6" cy="371.7" r="2.2" fill="#4b5cb2"/>
<circle cx="426.0" cy="373.3" r="2.2" fill="#4b5cb2"/>
<circle cx="434.4" cy="371.4" r="2.2" fill="#4b5cb2"/>
<circle cx="442.7" cy="371.7" r="2.2" fill="#4b5cb2"/>
<circle cx="451.1" cy="371.4" r="2.2" fill="#4b5cb2"/>
<circle cx="459.4" cy="371.7" r="2.2" fill="#4b5cb2"/>
<circle cx="467.8" cy="373.0" r="2.2" fill="#4b5cb2"/>
<circle cx="476.2" cy="373.0" r="2.2" fill="#4b5cb2"/>
<circle cx="484.5" cy="372.7" r="2.2" fill="#4b5cb2"/>
<circle cx="492.9" cy="373.6" r="2.2" fill="#4b5cb2"/>
<circle cx="501.2" cy="371.1" r="2.2" fill="#4b5cb2"/>
<circle cx="509.6" cy="371.7" r="2.2" fill="#4b5cb2"/>
<circle cx="518.0" cy="371.1" r="2.2" fill="#4b5cb2"/>
<circle cx="526.3" cy="372.4" r="2.2" fill="#4b5cb2"/>
<circle cx="534.7" cy="372.4" r="2.2" fill="#4b5cb2"/>
<circle cx="543.0" cy="373.0" r="2.2" fill="#4b5cb2"/>
<circle cx="551.4" cy="372.4" r="2.2" fill="#4b5cb2"/>
<circle cx="559.8" cy="372.4" r="2.2" fill="#4b5cb2"/>
<circle cx="568.1" cy="372.4" r="2.2" fill="#4b5cb2"/>
<circle cx="576.5" cy="373.0" r="2.2" fill="#4b5cb2"/>
<polyline fill="none" stroke="#1a1a1a" stroke-width="1.6" stroke-dasharray="5 3.6" points="56.9,373.3 65.2,375.2 73.5,378.5 81.8,372.8 90.1,372.8 98.5,373.3 106.8,378.0 115.1,375.2 123.4,374.1 131.7,375.9 140.0,373.9 148.3,378.5 156.6,368.7 164.9,372.0 173.2,374.6 181.6,375.9 189.9,373.3 198.2,373.3 206.5,373.9 216.7,387.7 225.0,447.4 233.3,523.7 367.6,523.7 375.9,420.3 384.2,370.8 392.6,373.3 400.9,372.4 409.3,375.6 417.6,367.6 426.0,366.0 434.4,371.7 442.7,371.7 451.1,367.6 459.4,372.4 467.8,374.0 476.2,373.0 484.5,373.3 492.9,377.8 501.2,366.6 509.6,372.4 518.0,367.6 526.3,374.3 534.7,371.1 543.0,364.4 551.4,371.7 559.8,369.2 568.1,371.1 576.5,371.7"/>
<line x1="234" y1="523.3" x2="367.6" y2="523.3" stroke="#1a1a1a" stroke-width="2.2" stroke-dasharray="4.4 2.4"/>
<path d="M54.2 371.3 h5.4 l-2.7 4.6z" fill="#111"/>
<path d="M62.5 373.2 h5.4 l-2.7 4.6z" fill="#111"/>
<path d="M70.8 376.5 h5.4 l-2.7 4.6z" fill="#111"/>
<path d="M79.1 370.8 h5.4 l-2.7 4.6z" fill="#111"/>
<path d="M87.4 370.8 h5.4 l-2.7 4.6z" fill="#111"/>
<path d="M95.8 371.3 h5.4 l-2.7 4.6z" fill="#111"/>
<path d="M104.1 376.0 h5.4 l-2.7 4.6z" fill="#111"/>
<path d="M112.4 373.2 h5.4 l-2.7 4.6z" fill="#111"/>
<path d="M120.7 372.1 h5.4 l-2.7 4.6z" fill="#111"/>
<path d="M129.0 373.9 h5.4 l-2.7 4.6z" fill="#111"/>
<path d="M137.3 371.9 h5.4 l-2.7 4.6z" fill="#111"/>
<path d="M145.6 376.5 h5.4 l-2.7 4.6z" fill="#111"/>
<path d="M153.9 366.7 h5.4 l-2.7 4.6z" fill="#111"/>
<path d="M162.2 370.0 h5.4 l-2.7 4.6z" fill="#111"/>
<path d="M170.5 372.6 h5.4 l-2.7 4.6z" fill="#111"/>
<path d="M178.9 373.9 h5.4 l-2.7 4.6z" fill="#111"/>
<path d="M187.2 371.3 h5.4 l-2.7 4.6z" fill="#111"/>
<path d="M195.5 371.3 h5.4 l-2.7 4.6z" fill="#111"/>
<path d="M203.8 371.9 h5.4 l-2.7 4.6z" fill="#111"/>
<path d="M222.3 445.4 h5.4 l-2.7 4.6z" fill="#111"/>
<path d="M373.2 418.3 h5.4 l-2.7 4.6z" fill="#111"/>
<path d="M381.5 368.8 h5.4 l-2.7 4.6z" fill="#111"/>
<path d="M389.9 371.3 h5.4 l-2.7 4.6z" fill="#111"/>
<path d="M398.2 370.4 h5.4 l-2.7 4.6z" fill="#111"/>
<path d="M406.6 373.6 h5.4 l-2.7 4.6z" fill="#111"/>
<path d="M414.9 365.6 h5.4 l-2.7 4.6z" fill="#111"/>
<path d="M423.3 364.0 h5.4 l-2.7 4.6z" fill="#111"/>
<path d="M431.7 369.7 h5.4 l-2.7 4.6z" fill="#111"/>
<path d="M440.0 369.7 h5.4 l-2.7 4.6z" fill="#111"/>
<path d="M448.4 365.6 h5.4 l-2.7 4.6z" fill="#111"/>
<path d="M456.7 370.4 h5.4 l-2.7 4.6z" fill="#111"/>
<path d="M465.1 372.0 h5.4 l-2.7 4.6z" fill="#111"/>
<path d="M473.5 371.0 h5.4 l-2.7 4.6z" fill="#111"/>
<path d="M481.8 371.3 h5.4 l-2.7 4.6z" fill="#111"/>
<path d="M490.2 375.8 h5.4 l-2.7 4.6z" fill="#111"/>
<path d="M498.5 364.6 h5.4 l-2.7 4.6z" fill="#111"/>
<path d="M506.9 370.4 h5.4 l-2.7 4.6z" fill="#111"/>
<path d="M515.3 365.6 h5.4 l-2.7 4.6z" fill="#111"/>
<path d="M523.6 372.3 h5.4 l-2.7 4.6z" fill="#111"/>
<path d="M532.0 369.1 h5.4 l-2.7 4.6z" fill="#111"/>
<path d="M540.3 362.4 h5.4 l-2.7 4.6z" fill="#111"/>
<path d="M548.7 369.7 h5.4 l-2.7 4.6z" fill="#111"/>
<path d="M557.1 367.2 h5.4 l-2.7 4.6z" fill="#111"/>
<path d="M565.4 369.1 h5.4 l-2.7 4.6z" fill="#111"/>
<path d="M573.8 369.7 h5.4 l-2.7 4.6z" fill="#111"/>
<rect x="417" y="465.8" width="155.3" height="51.6" fill="#fff" stroke="#222" stroke-width="1.2"/>
<line x1="422.8" y1="478.4" x2="455.7" y2="478.4" stroke="#3a4ea8" stroke-width="1.2"/><circle cx="439.2" cy="478.4" r="1.9" fill="#4a5cb0"/>
<line x1="423.5" y1="505.5" x2="455.7" y2="505.5" stroke="#222" stroke-width="1.5" stroke-dasharray="5 4.2"/><path d="M436.9 503.9 h4.6 l-2.3 3.8z" fill="#111"/>
<text x="471.3" y="482.8" font-size="12.8" text-anchor="start" fill="#111" >Density</text>
<text x="471.3" y="510" font-size="12.9" text-anchor="start" fill="#111" >3<tspan baseline-shift="super" font-size="7.5">rd</tspan> RDF peak</text>
<line x1="216.7" y1="295" x2="216.7" y2="525" stroke="#e8303a" stroke-width="1.4"/>
<line x1="232.8" y1="295" x2="232.8" y2="525" stroke="#e8303a" stroke-width="1.4"/>
<line x1="367.8" y1="295" x2="367.8" y2="525" stroke="#e8303a" stroke-width="1.4"/>
<line x1="384" y1="295" x2="384" y2="525" stroke="#e8303a" stroke-width="1.4"/>
</svg>
</body></html>
